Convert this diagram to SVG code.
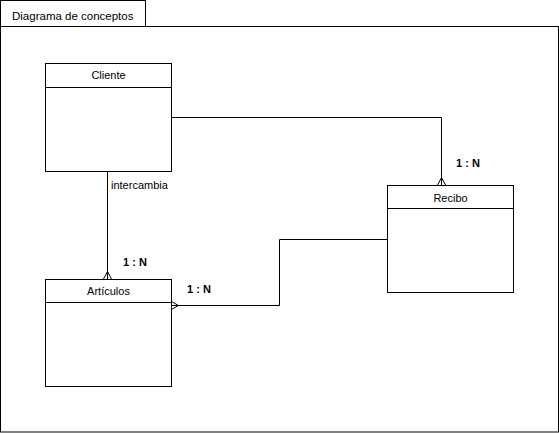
<svg xmlns="http://www.w3.org/2000/svg" width="559" height="433" viewBox="0 0 559 433">
<style>
.box{fill:#fff;stroke:#000;stroke-width:1}
.ln{fill:none;stroke:#000;stroke-width:1}
.t{font-family:"Liberation Sans",Arial,sans-serif;font-size:11px;fill:#000}
.c{text-anchor:middle}
.b{font-weight:bold}
</style>
<rect width="559" height="433" fill="#fff"/>
<g id="frame">
<rect class="box" x="0.5" y="26.5" width="558" height="405.5"/>
<rect class="box" x="0.5" y="0.5" width="145" height="26"/>
<text class="t" x="12" y="19.5" style="font-size:11.5px">Diagrama de conceptos</text>
</g>
<g id="connectors">
<path class="ln" d="M171.5 117.5 H441.5 V185"/>
<path class="ln" d="M437.5 185 L441.5 177.5 L445.5 185"/>
<path class="ln" d="M107.5 171.5 V279"/>
<path class="ln" d="M103.5 279 L107.5 271.5 L111.5 279"/>
<path class="ln" d="M171.5 305.5 H279.5 V239.5 H387"/>
<path class="ln" d="M171.5 301.5 L178.5 305.5 L171.5 309.5"/>
<text class="t" x="111" y="189">intercambia</text>
<text class="t b" x="123" y="265.5">1 : N</text>
<text class="t b" x="187" y="293">1 : N</text>
<text class="t b" x="456" y="167">1 : N</text>
</g>
<g id="cliente">
<rect class="box" x="45.5" y="63.5" width="126" height="108"/>
<line class="ln" x1="45.5" y1="87.5" x2="171.5" y2="87.5"/>
<text class="t c" x="108.5" y="79">Cliente</text>
</g>
<g id="recibo">
<rect class="box" x="387.5" y="185.5" width="126" height="107"/>
<line class="ln" x1="387.5" y1="208.5" x2="513.5" y2="208.5"/>
<text class="t c" x="450.5" y="201.5">Recibo</text>
</g>
<g id="articulos">
<rect class="box" x="45.5" y="279.5" width="126" height="107"/>
<line class="ln" x1="45.5" y1="302.5" x2="171.5" y2="302.5"/>
<text class="t c" x="108.5" y="294.5">Artículos</text>
</g>
</svg>
